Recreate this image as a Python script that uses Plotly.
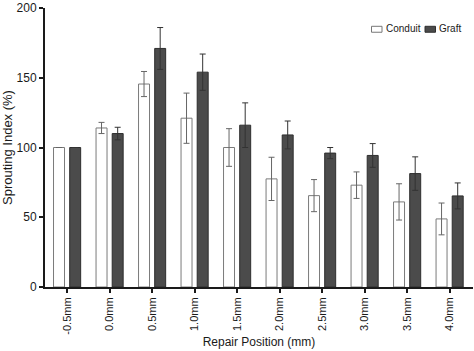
import plotly.graph_objects as go

categories = ["-0.5mm", "0.0mm", "0.5mm", "1.0mm", "1.5mm", "2.0mm", "2.5mm", "3.0mm", "3.5mm", "4.0mm"]
conduit = [100, 114, 145.5, 121, 100, 77.5, 65.5, 73, 61, 48.8]
conduit_err = [None, 4, 9, 18, 13.5, 15.5, 11.5, 9.5, 13, 11.4]
graft = [100, 110, 171, 154, 116, 109, 96, 94.3, 81.3, 65.3]
graft_err = [None, 4.5, 15, 13, 16, 10, 4, 8.5, 12, 9.3]
series_names = ["Conduit", "Graft"]

W, H = 474, 351
L, R, T, B = 45, 1, 5, 64
pw, ph = W - L - R, H - T - B

def px(x):
    return (x - L) / pw

def py(y):
    return (H - B - y) / ph

fig = go.Figure()
fig.add_trace(go.Bar(
    x=categories, y=conduit, name=series_names[0],
    marker=dict(color="white", line=dict(color="#7a7a7a", width=1)),
    error_y=dict(type="data", array=conduit_err, visible=True, color="#666666", thickness=1, width=3),
))
fig.add_trace(go.Bar(
    x=categories, y=graft, name=series_names[1],
    marker=dict(color="#4b4b4b", line=dict(color="#2e2e2e", width=1)),
    error_y=dict(type="data", array=graft_err, visible=True, color="#333333", thickness=1, width=3),
))

# manual legend (small flat boxes like the reference)
fig.add_shape(type="rect", xref="paper", yref="paper",
              x0=px(371.5), x1=px(382), y0=py(29.5), y1=py(23.5),
              fillcolor="white", line=dict(color="#777777", width=1))
fig.add_shape(type="rect", xref="paper", yref="paper",
              x0=px(425), x1=px(435.5), y0=py(29.5), y1=py(23.5),
              fillcolor="#4b4b4b", line=dict(color="#2e2e2e", width=1))
fig.add_annotation(xref="paper", yref="paper", x=px(383.5), y=py(25.5), text=series_names[0],
                   showarrow=False, xanchor="left", yanchor="middle",
                   font=dict(size=10, color="#1a1a1a"))
fig.add_annotation(xref="paper", yref="paper", x=px(437), y=py(25.5), text=series_names[1],
                   showarrow=False, xanchor="left", yanchor="middle",
                   font=dict(size=10, color="#1a1a1a"))

fig.update_layout(
    width=W, height=H,
    margin=dict(l=L, r=R, t=T, b=B),
    barmode="group", bargap=0.24, bargroupgap=0.32,
    plot_bgcolor="white", paper_bgcolor="white",
    font=dict(family="Liberation Sans, Arial, sans-serif", color="#1a1a1a", size=11),
    showlegend=False,
    xaxis=dict(
        type="category", range=[-0.52, 9.55], tickangle=-90,
        showline=True, linecolor="#1a1a1a", linewidth=2,
        ticks="outside", ticklen=4, tickcolor="#1a1a1a", tickwidth=1.5,
        showgrid=False, tickfont=dict(size=11),
        title=dict(text="Repair Position (mm)", font=dict(size=12), standoff=4),
    ),
    yaxis=dict(
        range=[0, 200], tickvals=[0, 50, 100, 150, 200],
        showline=True, linecolor="#1a1a1a", linewidth=2,
        ticks="outside", ticklen=4, tickcolor="#1a1a1a", tickwidth=1.5,
        showgrid=False, zeroline=False, tickfont=dict(size=12),
        ticklabeloverflow="allow",
        title=dict(text="Sprouting Index (%)", font=dict(size=13), standoff=4),
    ),
)

fig.write_html("out.html")
